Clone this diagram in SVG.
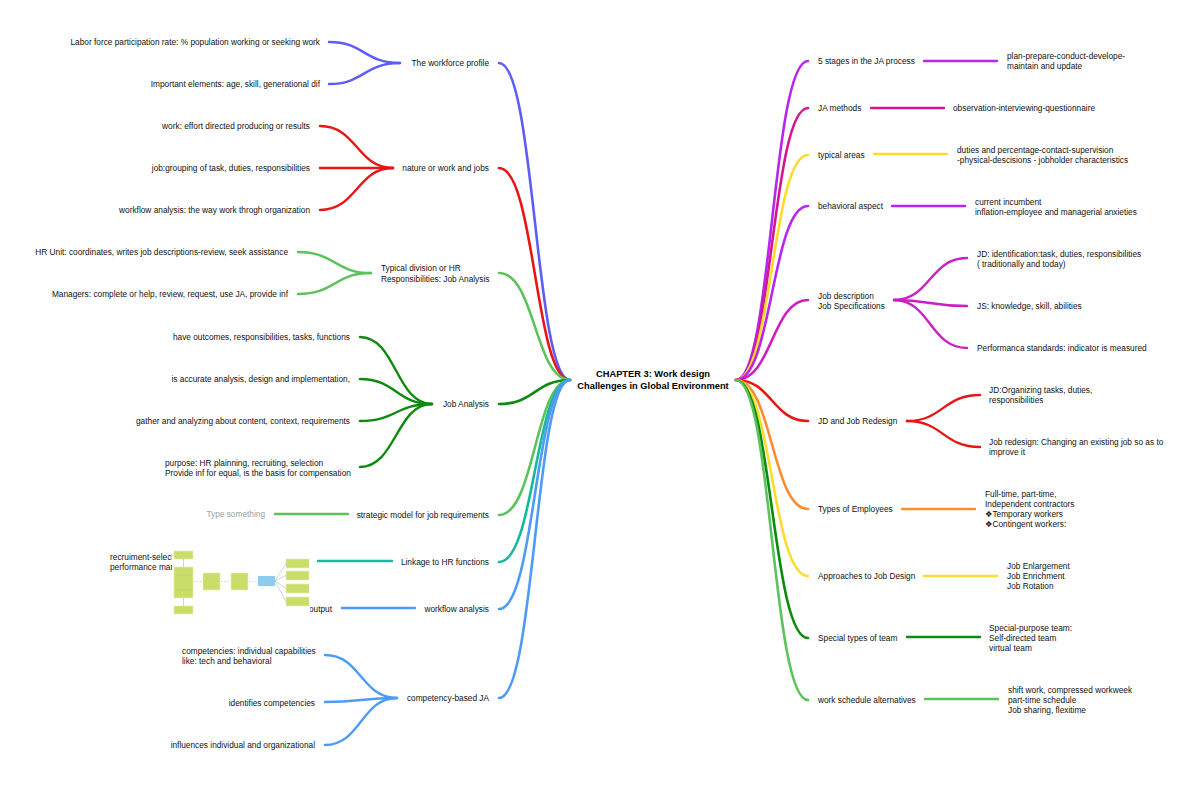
<svg xmlns="http://www.w3.org/2000/svg" width="1200" height="787" viewBox="0 0 1200 787">
<style>
text{font-family:"Liberation Sans",Arial,"DejaVu Sans",sans-serif;font-size:8.3px;fill:#111}
.e{text-anchor:end}
.c{fill:none;stroke-width:2.6;stroke-linecap:round}
.cc{fill:none;stroke-width:2.4;stroke-linecap:round}
.blu{stroke:#5c5cf6}.red{stroke:#e81515}.lg{stroke:#5cc35c}.dg{stroke:#0d8a0d}
.tl{stroke:#16b89e}.bl{stroke:#4d9bf6}.pu{stroke:#b626ef}.mg{stroke:#d4178f}
.ye{stroke:#ffdb2e}.mp{stroke:#c920c2}.or{stroke:#ff8c2f}
.ctr{font-weight:bold;font-size:9.3px;text-anchor:middle;fill:#000}
.gb{fill:#c9dd6b;stroke:#e4eeb0;stroke-width:0.6}
.ga{stroke:#a8a8a8;stroke-width:0.5;fill:none}
</style>
<rect width="1200" height="787" fill="#fff"/>
<g id="connectors">
<path class="c blu" d="M570,380 C535,380 535,63 499,63"/>
<path class="c red" d="M570,380 C535,380 535,168 499,168"/>
<path class="c lg" d="M570,380 C535,380 535,273 499,273"/>
<path class="c dg" d="M570,380 C535,380 535,404 499,404"/>
<path class="c lg" d="M570,380 C535,380 535,515 499,515"/>
<path class="c tl" d="M570,380 C535,380 535,562 499,562"/>
<path class="c bl" d="M570,380 C535,380 535,609 499,609"/>
<path class="c bl" d="M570,380 C535,380 535,698 499,698"/>
<path class="c pu" d="M736,380 C772,380 772,61 808,61"/>
<path class="c mg" d="M736,380 C772,380 772,108 808,108"/>
<path class="c ye" d="M736,380 C772,380 772,155 808,155"/>
<path class="c pu" d="M736,380 C772,380 772,206 808,206"/>
<path class="c mp" d="M736,380 C772,380 772,300 808,300"/>
<path class="c red" d="M736,380 C772,380 772,421 808,421"/>
<path class="c or" d="M736,380 C772,380 772,509 808,509"/>
<path class="c ye" d="M736,380 C772,380 772,576 808,576"/>
<path class="c dg" d="M736,380 C772,380 772,638 808,638"/>
<path class="c lg" d="M736,380 C772,380 772,700 808,700"/>
<path class="cc blu" d="M400,63 C364,63 364,42 329,42"/>
<path class="cc blu" d="M400,63 C364,63 364,84 329,84"/>
<path class="cc red" d="M393,168 C357,168 357,126 320,126"/>
<path class="cc red" d="M393,168 L320,168"/>
<path class="cc red" d="M393,168 C357,168 357,210 320,210"/>
<path class="cc lg" d="M371,273 C335,273 335,252 298,252"/>
<path class="cc lg" d="M371,273 C335,273 335,294 298,294"/>
<path class="cc dg" d="M432,404 C396,404 396,337 360,337"/>
<path class="cc dg" d="M432,404 C396,404 396,379 360,379"/>
<path class="cc dg" d="M432,404 C396,404 396,421 360,421"/>
<path class="cc dg" d="M432,404 C396,404 396,467 360,467"/>
<path class="cc lg" d="M348,514 L275,514"/>
<path class="cc tl" d="M392,561 L318,561"/>
<path class="cc bl" d="M415,608 L342,608"/>
<path class="cc bl" d="M397,698 C361,698 361,655 325,655"/>
<path class="cc bl" d="M397,698 C361,698 361,702 325,702"/>
<path class="cc bl" d="M397,698 C361,698 361,745 325,745"/>
<path class="cc pu" d="M924,61 L997,61"/>
<path class="cc mg" d="M871,108 L944,108"/>
<path class="cc ye" d="M874,154 L947,154"/>
<path class="cc pu" d="M892,206 L965,206"/>
<path class="cc mp" d="M894,300 C930,300 930,258 967,258"/>
<path class="cc mp" d="M894,300 C930,300 930,306 967,306"/>
<path class="cc mp" d="M894,300 C930,300 930,348 967,348"/>
<path class="cc red" d="M907,421 C943,421 943,395 980,395"/>
<path class="cc red" d="M907,421 C943,421 943,447 980,447"/>
<path class="cc or" d="M902,509 L975,509"/>
<path class="cc ye" d="M924,576 L997,576"/>
<path class="cc dg" d="M907,637 L980,637"/>
<path class="cc lg" d="M925,699 L998,699"/>
</g>
<g id="center"><text class="ctr" x="653" y="377">CHAPTER 3: Work design</text><text class="ctr" x="653" y="388.5">Challenges in Global Environment</text></g>
<g id="n-workforce"><text class="e" x="489" y="66">The workforce profile</text></g>
<g id="n-labor"><text class="e" x="320" y="45">Labor force participation rate: % population working or seeking work</text></g>
<g id="n-important"><text class="e" x="320" y="87">Important elements: age, skill, generational dif</text></g>
<g id="n-nature"><text class="e" x="489" y="171">nature or work and jobs</text></g>
<g id="n-work"><text class="e" x="310" y="129">work: effort directed producing or results</text></g>
<g id="n-job"><text class="e" x="310" y="171">job:grouping of task, duties, responsibilities</text></g>
<g id="n-workflow1"><text class="e" x="310" y="213">workflow analysis: the way work throgh organization</text></g>
<g id="n-typical"><text x="381" y="271">Typical division or HR</text><text x="381" y="282">Responsibilities: Job Analysis</text></g>
<g id="n-hrunit"><text class="e" x="288" y="255">HR Unit: coordinates, writes job descriptions-review, seek assistance</text></g>
<g id="n-managers"><text class="e" x="288" y="297">Managers: complete or help, review, request, use JA, provide inf</text></g>
<g id="n-ja"><text class="e" x="489" y="407">Job Analysis</text></g>
<g id="n-have"><text class="e" x="350" y="340">have outcomes, responsibilities, tasks, functions</text></g>
<g id="n-accurate"><text class="e" x="350" y="382">is accurate analysis, design and implementation,</text></g>
<g id="n-gather"><text class="e" x="350" y="424">gather and analyzing about content, context, requirements</text></g>
<g id="n-purpose"><text x="165" y="466">purpose: HR plainning, recruiting, selection</text><text x="165" y="476">Provide inf for equal, is the basis for compensation</text></g>
<g id="n-strategic"><text class="e" x="489" y="518">strategic model for job requirements</text></g>
<g id="n-type"><text class="e" x="265" y="517" style="fill:#9aa0a8">Type something</text></g>
<g id="n-linkage"><text class="e" x="489" y="565">Linkage to HR functions</text></g>
<g id="n-recruit"><text x="110" y="560">recruiment-selection</text><text x="110" y="570">performance management</text></g>
<g id="n-output"><text class="e" x="332" y="612">output</text></g>
<g id="n-image">
<rect x="172" y="545" width="138" height="75" fill="#fff"/>
<rect class="gb" x="174" y="551" width="19" height="8"/>
<rect class="gb" x="174" y="567" width="19" height="31"/>
<rect class="gb" x="174" y="606" width="19" height="8"/>
<rect class="gb" x="203" y="573" width="17" height="17"/>
<rect class="gb" x="231" y="573" width="17" height="17"/>
<rect x="258" y="576" width="17" height="10" fill="#8ecbf0"/>
<rect class="gb" x="286" y="559" width="23" height="9"/>
<rect class="gb" x="286" y="571" width="23" height="9"/>
<rect class="gb" x="286" y="584" width="23" height="9"/>
<rect class="gb" x="286" y="597" width="23" height="9"/>
<path class="ga" d="M183.5,559 V567 M183.5,606 V598"/>
<path class="ga" stroke-dasharray="1.5,1.5" d="M194,581.5 H202 M221,581.5 H230 M249,581.5 H257"/>
<path class="ga" d="M275,581 L286,563.5 M275,581 L286,575.5 M275,581 L286,588.5 M275,581 L286,601.5"/>
<path d="M176,575 H191 M176,590 H191" stroke="#b5c85a" stroke-width="0.4"/>
</g>
<g id="n-workflow"><text class="e" x="489" y="612">workflow analysis</text></g>
<g id="n-competency"><text class="e" x="489" y="701">competency-based JA</text></g>
<g id="n-comp1"><text x="182" y="654">competencies: individual capabilities</text><text x="182" y="664">like: tech and behavioral</text></g>
<g id="n-comp2"><text class="e" x="315" y="706">identifies competencies</text></g>
<g id="n-comp3"><text class="e" x="315" y="748">influences individual and organizational</text></g>
<g id="n-stages"><text x="818" y="64">5 stages in the JA process</text></g>
<g id="n-plan"><text x="1007" y="59">plan-prepare-conduct-develope-</text><text x="1007" y="69">maintain and update</text></g>
<g id="n-methods"><text x="818" y="111">JA methods</text></g>
<g id="n-obs"><text x="953" y="111">observation-interviewing-questionnaire</text></g>
<g id="n-areas"><text x="818" y="158">typical areas</text></g>
<g id="n-duties"><text x="957" y="153">duties and percentage-contact-supervision</text><text x="957" y="163">-physical-descisions - jobholder characteristics</text></g>
<g id="n-behav"><text x="818" y="209">behavioral aspect</text></g>
<g id="n-current"><text x="975" y="205">current incumbent</text><text x="975" y="215">inflation-employee and managerial anxieties</text></g>
<g id="n-jd"><text x="818" y="299">Job description</text><text x="818" y="309">Job Specifications</text></g>
<g id="n-jdid"><text x="977" y="257">JD: identification:task, duties, responsibilities</text><text x="977" y="267">( traditionally and today)</text></g>
<g id="n-js"><text x="977" y="309">JS: knowledge, skill, abilities</text></g>
<g id="n-perf"><text x="977" y="351">Performanca standards: indicator is measured</text></g>
<g id="n-redesign"><text x="818" y="424">JD and Job Redesign</text></g>
<g id="n-jdorg"><text x="989" y="393">JD:Organizing tasks, duties,</text><text x="989" y="403">responsibilities</text></g>
<g id="n-jr"><text x="989" y="445">Job redesign: Changing an existing job so as to</text><text x="989" y="455">improve it</text></g>
<g id="n-types"><text x="818" y="512">Types of Employees</text></g>
<g id="n-full"><text x="985" y="497">Full-time, part-time,</text><text x="985" y="507">Independent contractors</text><text x="985" y="517">❖Temporary workers</text><text x="985" y="527">❖Contingent workers:</text></g>
<g id="n-approach"><text x="818" y="579">Approaches to Job Design</text></g>
<g id="n-enl"><text x="1007" y="569">Job Enlargement</text><text x="1007" y="579">Job Enrichment</text><text x="1007" y="589">Job Rotation</text></g>
<g id="n-team"><text x="818" y="641">Special types of team</text></g>
<g id="n-sp"><text x="989" y="631">Special-purpose team:</text><text x="989" y="641">Self-directed team</text><text x="989" y="651">virtual team</text></g>
<g id="n-sched"><text x="818" y="703">work schedule alternatives</text></g>
<g id="n-shift"><text x="1008" y="693">shift work, compressed workweek</text><text x="1008" y="703">part-time schedule</text><text x="1008" y="713">Job sharing, flexitime</text></g>
</svg>
